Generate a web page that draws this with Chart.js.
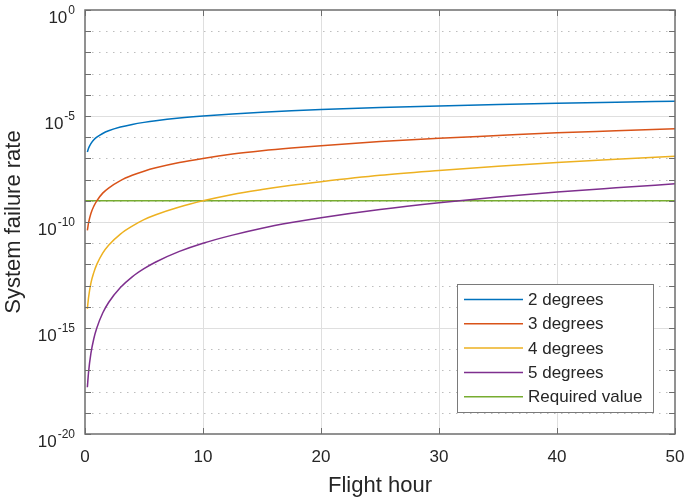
<!DOCTYPE html>
<html><head><meta charset="utf-8">
<script src="https://cdn.jsdelivr.net/npm/chart.js@4.4.1/dist/chart.umd.min.js"></script>
<style>html,body{margin:0;padding:0;background:#fff}#wrap{width:685px;height:501px}</style>
</head><body><div id="wrap"><canvas id="c" width="685" height="501"></canvas></div>
<script>
// ---- data ----
const hours = [0.2, 0.3, 0.5, 0.75, 1, 1.5, 2, 3, 4, 5, 6, 8, 10, 12.5, 15, 17.5, 20, 25, 30, 35, 40, 45, 50];
const deg2 = [2.0e-7, 3.0e-7, 5.0e-7, 7.5e-7, 1.0e-6, 1.5e-6, 2.0e-6, 3.0e-6, 4.0e-6, 5.0e-6, 6.0e-6, 8.0e-6, 1.0e-5, 1.25e-5, 1.5e-5, 1.75e-5, 2.0e-5, 2.5e-5, 3.0e-5, 3.5e-5, 4.0e-5, 4.5e-5, 5.0e-5];
const deg3 = [4.0e-11, 9.0e-11, 2.5e-10, 5.6e-10, 1.0e-9, 2.3e-9, 4.0e-9, 9.0e-9, 1.6e-8, 2.5e-8, 3.6e-8, 6.4e-8, 1.0e-7, 1.6e-7, 2.3e-7, 3.1e-7, 4.0e-7, 6.3e-7, 9.0e-7, 1.2e-6, 1.6e-6, 2.0e-6, 2.5e-6];
const deg4 = [8.0e-15, 2.7e-14, 1.3e-13, 4.2e-13, 1.0e-12, 3.4e-12, 8.0e-12, 2.7e-11, 6.4e-11, 1.3e-10, 2.2e-10, 5.1e-10, 1.0e-9, 2.0e-9, 3.4e-9, 5.4e-9, 8.0e-9, 1.6e-8, 2.7e-8, 4.3e-8, 6.4e-8, 9.1e-8, 1.25e-7];
const deg5 = [1.6e-18, 8.1e-18, 6.3e-17, 3.2e-16, 1.0e-15, 5.1e-15, 1.6e-14, 8.1e-14, 2.6e-13, 6.3e-13, 1.3e-12, 4.1e-12, 1.0e-11, 2.4e-11, 5.1e-11, 9.4e-11, 1.6e-10, 3.9e-10, 8.1e-10, 1.5e-9, 2.6e-9, 4.1e-9, 6.3e-9];
const requiredHours = [0, 50];
const requiredValue = [1e-9, 1e-9];
const seriesLabels = ['2 degrees', '3 degrees', '4 degrees', '5 degrees', 'Required value'];
const xTickValues = [0, 10, 20, 30, 40, 50];
const yDecadeExponents = [0, -1, -2, -3, -4, -5, -6, -7, -8, -9, -10, -11, -12, -13, -14, -15, -16, -17, -18, -19, -20];
const yLabelExponents = [0, -5, -10, -15, -20];
const xTitle = 'Flight hour';
const yTitle = 'System failure rate';

// ---- styling ----
const FONT = '"Liberation Sans", Arial, Helvetica, sans-serif';
const TEXT = '#262626';
const AXIS = '#6e6e6e';
const colors = ['#0072BD', '#D95319', '#EDB120', '#7E2F8E', '#77AC30'];

const pts = (xs, ys) => xs.map((v, i) => ({x: v, y: ys[i]}));
const seriesData = [pts(hours, deg2), pts(hours, deg3), pts(hours, deg4), pts(hours, deg5), pts(requiredHours, requiredValue)];

const matlabPlugin = {
  id: 'matlabLook',
  beforeDatasetsDraw(chart) {
    const {ctx, chartArea: a, scales: {x, y}} = chart;
    ctx.save();
    ctx.lineWidth = 1;
    y.ticks.forEach(t => {
      const e = Math.round(Math.log10(t.value));
      const py = Math.round(y.getPixelForValue(t.value)) + 0.5;
      if (py <= a.top + 1 || py >= a.bottom - 1) return;
      if (yLabelExponents.includes(e)) { ctx.setLineDash([]); ctx.strokeStyle = '#dfdfdf'; }
      else { ctx.setLineDash([1.5, 5.5]); ctx.strokeStyle = '#bdbdbd'; }
      ctx.beginPath(); ctx.moveTo(a.left, py); ctx.lineTo(a.right, py); ctx.stroke();
    });
    ctx.setLineDash([]);
    ctx.strokeStyle = '#dfdfdf';
    x.ticks.forEach(t => {
      const px = Math.round(x.getPixelForValue(t.value)) + 0.5;
      if (px <= a.left + 1 || px >= a.right - 1) return;
      ctx.beginPath(); ctx.moveTo(px, a.top); ctx.lineTo(px, a.bottom); ctx.stroke();
    });
    ctx.restore();
  },
  afterDatasetsDraw(chart) {
    const {ctx, chartArea: a, scales: {x, y}} = chart;
    ctx.save();
    // tick marks (inward, all four sides)
    ctx.strokeStyle = AXIS; ctx.lineWidth = 1;
    const TL = 6;
    y.ticks.forEach(t => {
      const py = Math.round(y.getPixelForValue(t.value)) + 0.5;
      ctx.beginPath();
      ctx.moveTo(a.left, py); ctx.lineTo(a.left + TL, py);
      ctx.moveTo(a.right, py); ctx.lineTo(a.right - TL, py);
      ctx.stroke();
    });
    x.ticks.forEach(t => {
      const px = Math.round(x.getPixelForValue(t.value)) + 0.5;
      ctx.beginPath();
      ctx.moveTo(px, a.bottom); ctx.lineTo(px, a.bottom - TL);
      ctx.moveTo(px, a.top); ctx.lineTo(px, a.top + TL);
      ctx.stroke();
    });
    // box
    ctx.lineWidth = 1.5;
    ctx.strokeRect(a.left, a.top, a.right - a.left, a.bottom - a.top);
    // y labels 10^n
    ctx.fillStyle = TEXT;
    ctx.textBaseline = 'alphabetic';
    ctx.textAlign = 'left';
    yLabelExponents.forEach(e => {
      const py = y.getPixelForValue(Math.pow(10, e));
      const expTxt = String(e);
      ctx.font = '12px ' + FONT;
      const ew = ctx.measureText(expTxt).width;
      ctx.font = '17px ' + FONT;
      const bw = ctx.measureText('10').width;
      const right = a.left - 10;
      const ex = right - ew;
      const bx = ex - 1 - bw;
      ctx.fillText('10', bx, py + 13);
      ctx.font = '12px ' + FONT;
      ctx.fillText(expTxt, ex, py + 4);
    });
    // legend
    const lw = 196, lh = 128;
    const lx = a.right - 22 - lw, ly = a.bottom - 22 - lh;
    ctx.fillStyle = '#ffffff';
    ctx.fillRect(lx, ly, lw, lh);
    ctx.strokeStyle = '#7a7a7a'; ctx.lineWidth = 1;
    ctx.strokeRect(lx + 0.5, ly + 0.5, lw, lh);
    ctx.font = '17px ' + FONT;
    ctx.textBaseline = 'middle';
    chart.data.datasets.forEach((ds, i) => {
      const ry = ly + 15.5 + i * 24.3;
      ctx.strokeStyle = ds.borderColor; ctx.lineWidth = 1.5;
      ctx.beginPath(); ctx.moveTo(lx + 7, ry); ctx.lineTo(lx + 66, ry); ctx.stroke();
      ctx.fillStyle = TEXT;
      ctx.fillText(ds.label, lx + 71, ry + 1);
    });
    ctx.restore();
  }
};

new Chart(document.getElementById('c'), {
  type: 'line',
  data: {
    datasets: seriesData.map((d, i) => ({
      label: seriesLabels[i],
      data: d,
      borderColor: colors[i],
      backgroundColor: colors[i],
      borderWidth: 1.5,
      pointRadius: 0,
      fill: false,
      cubicInterpolationMode: 'monotone'
    }))
  },
  options: {
    responsive: false,
    animation: false,
    devicePixelRatio: 1,
    layout: {padding: {top: 10, right: 10, left: 0, bottom: 0}},
    plugins: {legend: {display: false}, tooltip: {enabled: false}},
    scales: {
      x: {
        type: 'linear', min: 0, max: 50,
        afterBuildTicks: s => { s.ticks = xTickValues.map(v => ({value: v})); },
        ticks: {font: {family: FONT, size: 17}, color: TEXT, padding: 13, maxRotation: 0},
        grid: {display: false, drawTicks: false},
        border: {display: false},
        title: {display: true, text: xTitle, font: {family: FONT, size: 22}, color: TEXT, padding: {top: 0, bottom: 2}},
        afterFit: s => { s.height = 67; s.paddingLeft = 0; s.paddingRight = 0; }
      },
      y: {
        type: 'logarithmic', min: 1e-20, max: 1,
        afterBuildTicks: s => { s.ticks = yDecadeExponents.map(e => ({value: Math.pow(10, e)})); },
        ticks: {display: false},
        grid: {display: false, drawTicks: false},
        border: {display: false},
        title: {display: true, text: yTitle, font: {family: FONT, size: 22}, color: TEXT, padding: {top: 1, bottom: 0}},
        afterFit: s => { s.width = 85; }
      }
    }
  },
  plugins: [matlabPlugin]
});
</script>
</body></html>
